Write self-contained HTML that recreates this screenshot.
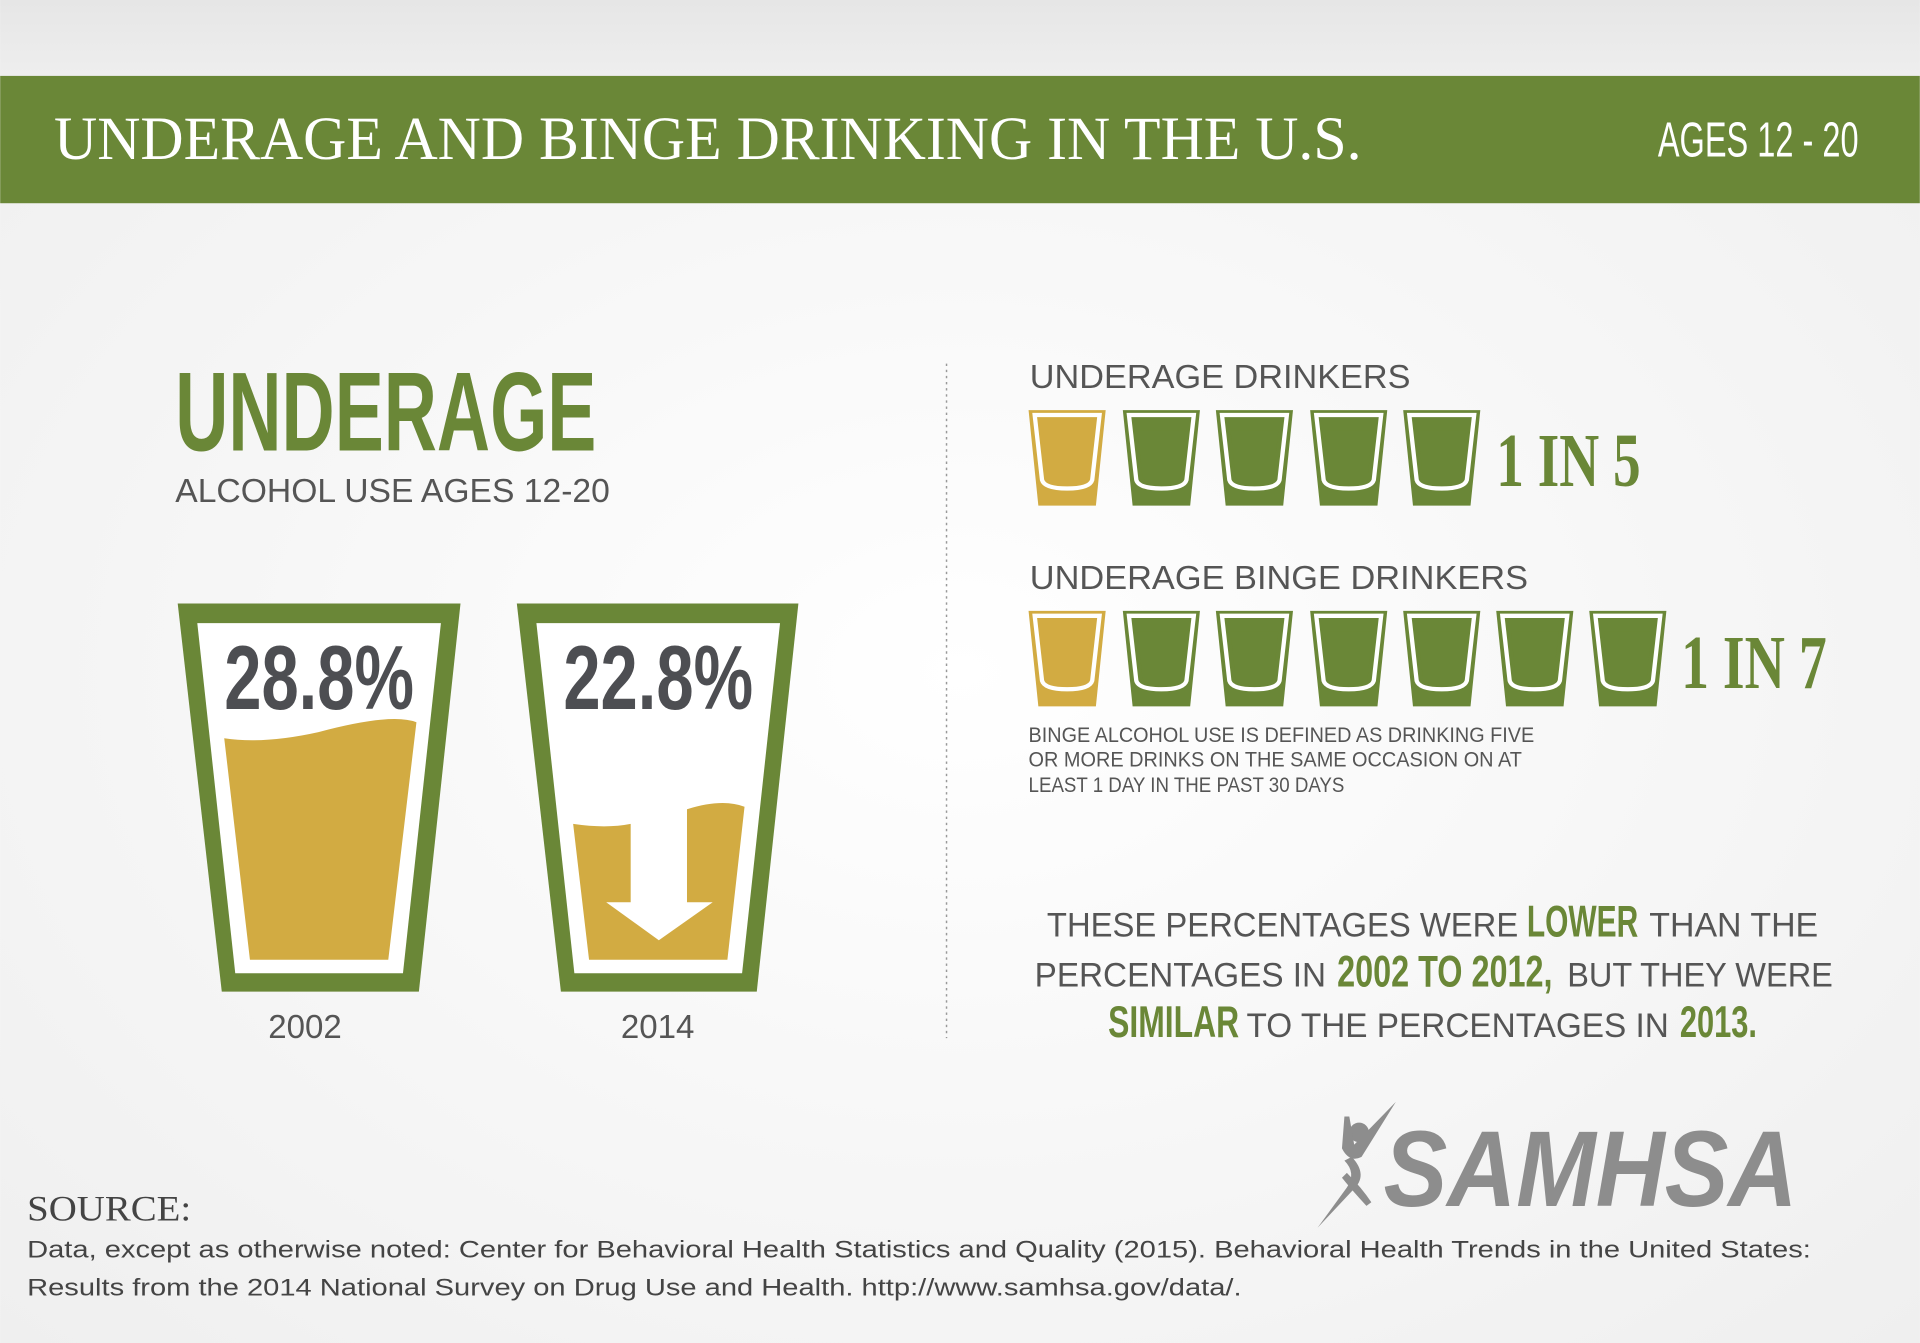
<!DOCTYPE html>
<html><head><meta charset="utf-8"><style>
html,body{margin:0;padding:0;width:1920px;height:1343px;overflow:hidden;background:#f6f6f6}
svg{display:block}
</style></head><body>
<svg width="1920" height="1343" viewBox="0 0 1568 1097" xmlns="http://www.w3.org/2000/svg">
<defs>
<radialGradient id="bg" cx="50%" cy="50%" r="70%">
<stop offset="0" stop-color="#ffffff"/><stop offset="1" stop-color="#efefef"/>
</radialGradient>
<linearGradient id="top" x1="0" y1="0" x2="0" y2="1"><stop offset="0" stop-color="#e6e6e6"/><stop offset="1" stop-color="#eeeeee"/></linearGradient>
<g id="gg">
<polygon points="0,0 63,0 55,78 8,78" fill="#d2ab42"/>
<path d="M5,4 L58,4 L52,57 Q50,64 31.5,64 Q13,64 11,57 Z" fill="none" stroke="#fff" stroke-width="3.5"/>
<path d="M12,17 L51,17 L47,54 Q46,60 31.5,60 Q17,60 16,54 Z" fill="#d2ab42"/>
</g>
<g id="gr">
<polygon points="0,0 63,0 55,78 8,78" fill="#6a8737"/>
<path d="M5,4 L58,4 L52,57 Q50,64 31.5,64 Q13,64 11,57 Z" fill="none" stroke="#fff" stroke-width="3.5"/>
<path d="M12,17 L51,17 L47,54 Q46,60 31.5,60 Q17,60 16,54 Z" fill="#6a8737"/>
</g>
</defs>
<rect width="1568" height="1097" fill="url(#bg)"/>
<rect width="1568" height="62" fill="url(#top)"/>
<rect y="62" width="1568" height="104" fill="#6a8737"/>
<text x="44" y="130" font-family="Liberation Serif, serif" font-size="50" fill="#fff" textLength="1068" lengthAdjust="spacingAndGlyphs">UNDERAGE AND BINGE DRINKING IN THE U.S.</text>
<text x="1354" y="128" font-family="Liberation Sans Narrow, Liberation Sans, sans-serif" font-size="40" fill="#fff" textLength="164" lengthAdjust="spacingAndGlyphs">AGES 12 - 20</text>

<text x="143" y="368" font-family="Liberation Sans Narrow, Liberation Sans, sans-serif" font-weight="bold" font-size="92" fill="#6a8737" textLength="344" lengthAdjust="spacingAndGlyphs">UNDERAGE</text>
<text x="143" y="410" font-family="Liberation Sans, sans-serif" font-size="27" fill="#555" textLength="355" lengthAdjust="spacingAndGlyphs">ALCOHOL USE AGES 12-20</text>

<!-- glass 1 -->
<polygon points="145,493 376,493 342,810 181,810" fill="#6a8737"/>
<polygon points="161,509 360,509 329,795 192,795" fill="#fff"/>
<path d="M183,603 Q215,608 260,598 Q320,582 340,590 L317,784 L204,784 Z" fill="#d2ab42"/>
<text x="183" y="579" font-family="Liberation Sans Narrow, Liberation Sans, sans-serif" font-weight="bold" font-size="74" fill="#4d4e52" textLength="155" lengthAdjust="spacingAndGlyphs">28.8%</text>
<text x="249" y="848" text-anchor="middle" font-family="Liberation Sans, sans-serif" font-size="27" fill="#555">2002</text>
<!-- glass 2 -->
<polygon points="422,493 652,493 618,810 458,810" fill="#6a8737"/>
<polygon points="438,509 637,509 606,795 469,795" fill="#fff"/>
<path d="M468,673 Q495,677 515,673 L515,737 L495,737 L538,768 L582,737 L561,737 L561,661 Q590,652 608,659 L594,784 L481,784 Z" fill="#d2ab42"/>
<text x="460" y="579" font-family="Liberation Sans Narrow, Liberation Sans, sans-serif" font-weight="bold" font-size="74" fill="#4d4e52" textLength="155" lengthAdjust="spacingAndGlyphs">22.8%</text>
<text x="537" y="848" text-anchor="middle" font-family="Liberation Sans, sans-serif" font-size="27" fill="#555">2014</text>

<line x1="773" y1="297" x2="773" y2="848" stroke="#999" stroke-width="1.2" stroke-dasharray="2,3"/>

<text x="841" y="317" font-family="Liberation Sans, sans-serif" font-size="27" fill="#555" textLength="311" lengthAdjust="spacingAndGlyphs">UNDERAGE DRINKERS</text>
<use href="#gg" x="840" y="335"/>
<use href="#gr" x="917" y="335"/>
<use href="#gr" x="993" y="335"/>
<use href="#gr" x="1070" y="335"/>
<use href="#gr" x="1146" y="335"/>
<text x="1222" y="397" font-family="Liberation Serif, serif" font-weight="bold" font-size="62" fill="#6a8737" textLength="118" lengthAdjust="spacingAndGlyphs">1 IN 5</text>

<text x="841" y="481" font-family="Liberation Sans, sans-serif" font-size="27" fill="#555" textLength="407" lengthAdjust="spacingAndGlyphs">UNDERAGE BINGE DRINKERS</text>
<use href="#gg" x="840" y="499"/>
<use href="#gr" x="917" y="499"/>
<use href="#gr" x="993" y="499"/>
<use href="#gr" x="1070" y="499"/>
<use href="#gr" x="1146" y="499"/>
<use href="#gr" x="1222" y="499"/>
<use href="#gr" x="1298" y="499"/>
<text x="1373" y="562" font-family="Liberation Serif, serif" font-weight="bold" font-size="62" fill="#6a8737" textLength="119" lengthAdjust="spacingAndGlyphs">1 IN 7</text>

<g font-family="Liberation Sans Narrow, Liberation Sans, sans-serif" font-size="17" fill="#555">
<text x="840" y="606" textLength="413" lengthAdjust="spacingAndGlyphs">BINGE ALCOHOL USE IS DEFINED AS DRINKING FIVE</text>
<text x="840" y="626" textLength="403" lengthAdjust="spacingAndGlyphs">OR MORE DRINKS ON THE SAME OCCASION ON AT</text>
<text x="840" y="647" textLength="258" lengthAdjust="spacingAndGlyphs">LEAST 1 DAY IN THE PAST 30 DAYS</text>
</g>

<g font-family="Liberation Sans, sans-serif" font-size="28" fill="#555">
<text x="855" y="765" textLength="385" lengthAdjust="spacingAndGlyphs">THESE PERCENTAGES WERE</text>
<text x="1347" y="765" textLength="138" lengthAdjust="spacingAndGlyphs">THAN THE</text>
<text x="845" y="806" textLength="238" lengthAdjust="spacingAndGlyphs">PERCENTAGES IN</text>
<text x="1280" y="806" textLength="217" lengthAdjust="spacingAndGlyphs">BUT THEY WERE</text>
<text x="1018" y="847" textLength="345" lengthAdjust="spacingAndGlyphs">TO THE PERCENTAGES IN</text>
</g>
<g font-family="Liberation Sans Narrow, Liberation Sans, sans-serif" font-weight="bold" font-size="36" fill="#6a8737">
<text x="1247" y="765" textLength="91" lengthAdjust="spacingAndGlyphs">LOWER</text>
<text x="1092" y="806" textLength="176" lengthAdjust="spacingAndGlyphs">2002 TO 2012,</text>
<text x="905" y="847" textLength="107" lengthAdjust="spacingAndGlyphs">SIMILAR</text>
<text x="1372" y="847" textLength="63" lengthAdjust="spacingAndGlyphs">2013.</text>
</g>

<!-- SAMHSA logo -->
<g fill="#8d8d8d">
<circle cx="1110" cy="925" r="8"/>
<path d="M1140,900 L1112,945 Q1102,950 1096,938 L1098,912 L1102,912 L1106,935 Z"/>
<path d="M1104,945 Q1118,960 1105,972 L1076,1003 L1100,970 Q1108,958 1098,948 Z"/>
<path d="M1100,958 Q1112,970 1120,982 L1116,985 Q1104,972 1096,962 Z"/>
</g>
<text x="1130" y="985" font-family="Liberation Sans, sans-serif" font-weight="bold" font-style="italic" font-size="88" fill="#8d8d8d" textLength="338" lengthAdjust="spacingAndGlyphs">SAMHSA</text>

<text x="22" y="997" font-family="Liberation Serif, serif" font-size="29" fill="#444" textLength="134" lengthAdjust="spacingAndGlyphs">SOURCE:</text>
<g font-family="Liberation Sans, sans-serif" font-size="20" fill="#444">
<text x="22" y="1027" textLength="1457" lengthAdjust="spacingAndGlyphs">Data, except as otherwise noted: Center for Behavioral Health Statistics and Quality (2015). Behavioral Health Trends in the United States:</text>
<text x="22" y="1058" textLength="992" lengthAdjust="spacingAndGlyphs">Results from the 2014 National Survey on Drug Use and Health. http://www.samhsa.gov/data/.</text>
</g>
</svg>
</body></html>
